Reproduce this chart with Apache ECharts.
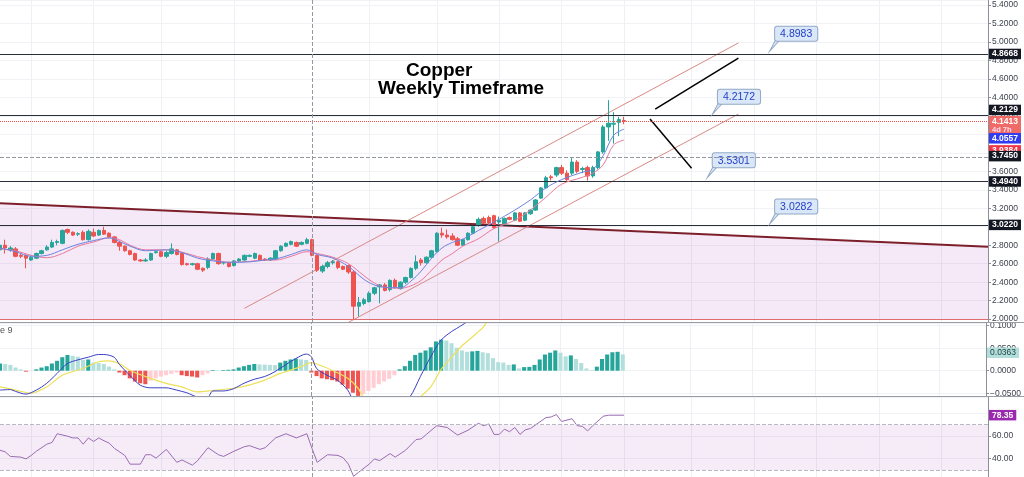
<!DOCTYPE html>
<html><head><meta charset="utf-8">
<script src="https://cdn.jsdelivr.net/npm/echarts@6/dist/echarts.min.js"></script>
<style>html,body{margin:0;padding:0;background:#fff}#c{width:1024px;height:477px}</style>
</head><body><div id="c"></div>
<script>
// ---------------- DATA ----------------
const weekCount = 191; // visible weekly slots incl. empty right margin
const weeks = Array.from({length: weekCount}, (_, i) => 'W' + (i + 1));

// weekly candles [open, close, low, high]
const candles = [
[2.75,2.80,2.74,2.82],[2.80,2.77,2.71,2.86],[2.75,2.77,2.73,2.79],[2.76,2.68,2.67,2.78],[2.69,2.68,2.66,2.71],
[2.69,2.66,2.55,2.70],[2.64,2.67,2.63,2.69],[2.66,2.71,2.65,2.72],[2.71,2.74,2.70,2.75],[2.75,2.78,2.74,2.80],
[2.78,2.83,2.77,2.86],[2.83,2.84,2.80,2.86],[2.82,2.96,2.81,2.97],[2.97,2.94,2.92,2.98],[2.94,2.91,2.90,2.95],
[2.92,2.925,2.90,2.94],[2.94,2.86,2.85,2.96],[2.86,2.95,2.85,2.97],[2.94,2.90,2.89,2.98],[2.91,2.96,2.90,2.97],
[2.96,2.92,2.91,3.00],[2.93,2.89,2.88,2.94],[2.89,2.83,2.82,2.90],[2.83,2.79,2.74,2.85],[2.79,2.74,2.73,2.80],
[2.74,2.70,2.69,2.75],[2.71,2.64,2.63,2.72],[2.64,2.63,2.62,2.65],[2.63,2.64,2.62,2.66],[2.64,2.71,2.63,2.72],
[2.72,2.73,2.71,2.74],[2.73,2.68,2.67,2.74],[2.68,2.72,2.66,2.74],[2.71,2.76,2.70,2.82],[2.75,2.70,2.69,2.76],
[2.71,2.59,2.58,2.72],[2.60,2.59,2.58,2.61],[2.59,2.60,2.58,2.61],[2.60,2.54,2.53,2.61],[2.55,2.53,2.51,2.56],
[2.56,2.65,2.54,2.67],[2.65,2.71,2.64,2.72],[2.71,2.60,2.59,2.72],[2.61,2.61,2.59,2.62],[2.61,2.57,2.56,2.62],
[2.58,2.63,2.57,2.64],[2.63,2.65,2.62,2.66],[2.64,2.69,2.63,2.70],[2.68,2.69,2.67,2.70],[2.66,2.71,2.65,2.72],
[2.69,2.64,2.63,2.70],[2.65,2.64,2.63,2.66],[2.64,2.66,2.63,2.67],[2.65,2.74,2.64,2.75],[2.74,2.79,2.73,2.80],
[2.79,2.82,2.78,2.83],[2.81,2.84,2.80,2.85],[2.83,2.79,2.78,2.84],[2.81,2.83,2.80,2.84],[2.82,2.86,2.81,2.88],
[2.86,2.69,2.68,2.87],[2.69,2.53,2.51,2.70],[2.52,2.57,2.50,2.59],[2.57,2.61,2.55,2.63],[2.61,2.62,2.59,2.64],
[2.62,2.56,2.54,2.63],[2.57,2.54,2.53,2.58],[2.58,2.51,2.49,2.59],[2.51,2.14,1.99,2.52],[2.14,2.18,2.03,2.24],
[2.17,2.21,2.15,2.23],[2.19,2.28,2.18,2.30],[2.28,2.34,2.26,2.35],[2.35,2.37,2.17,2.38],[2.37,2.31,2.30,2.39],
[2.32,2.42,2.30,2.43],[2.42,2.35,2.33,2.44],[2.33,2.40,2.32,2.41],[2.40,2.45,2.38,2.46],[2.45,2.55,2.44,2.56],
[2.55,2.62,2.53,2.69],[2.64,2.61,2.58,2.66],[2.61,2.67,2.60,2.68],[2.67,2.74,2.66,2.75],[2.73,2.93,2.72,2.94],
[2.93,2.91,2.88,2.99],[2.91,2.89,2.87,2.97],[2.90,2.86,2.85,2.93],[2.87,2.80,2.79,2.89],[2.80,2.86,2.79,2.87],
[2.86,2.93,2.85,2.94],[2.93,3.00,2.92,3.02],[3.02,3.08,3.00,3.10],[3.09,3.04,3.03,3.11],[3.10,3.04,3.02,3.12],
[3.12,2.99,2.98,3.13],[3.05,3.07,2.84,3.11],[3.03,3.09,3.02,3.10],[3.10,3.08,3.07,3.11],[3.07,3.15,3.06,3.16],
[3.15,3.06,3.05,3.16],[3.07,3.15,3.06,3.16],[3.14,3.18,3.13,3.19],[3.18,3.29,3.17,3.30],[3.31,3.42,3.30,3.43],
[3.42,3.53,3.41,3.55],[3.54,3.53,3.50,3.56],[3.56,3.64,3.54,3.65],[3.64,3.58,3.56,3.67],[3.58,3.51,3.49,3.61],
[3.58,3.70,3.56,3.75],[3.70,3.60,3.58,3.72],[3.62,3.63,3.58,3.65],[3.64,3.55,3.50,3.66],[3.55,3.64,3.53,3.66],
[3.64,3.81,3.62,3.82],[3.81,4.08,3.79,4.10],[4.08,4.12,3.93,4.37],[4.11,4.12,3.90,4.24],[4.13,4.16,3.98,4.19],
[4.15,4.1413,4.11,4.19]
];

// moving averages [week index, price]
const maFast = [[0,2.77],[3,2.73],[6,2.68],[9,2.69],[12,2.75],[15,2.81],[18,2.85],[21,2.88],[23,2.84],[25,2.79],
[28,2.74],[32,2.75],[35,2.72],[38,2.66],[41,2.63],[44,2.615],[48,2.62],[51,2.64],[53,2.65],[56,2.70],[59,2.75],
[61,2.70],[64,2.66],[67,2.57],[70,2.43],[72,2.37],[74,2.345],[77,2.34],[79,2.41],[81,2.52],[83,2.66],[85,2.77],
[87,2.83],[89,2.865],[92,2.96],[95,3.05],[99,3.18],[102,3.29],[105,3.42],[108,3.51],[112,3.59],[114,3.62],
[116,3.77],[118,3.99],[120,4.0557]];
const maSlow = [[0,2.76],[3,2.74],[6,2.69],[9,2.665],[12,2.71],[15,2.79],[18,2.835],[21,2.88],[23,2.86],[25,2.80],
[28,2.75],[32,2.75],[35,2.725],[38,2.676],[41,2.64],[44,2.615],[48,2.625],[51,2.64],[53,2.64],[56,2.68],[59,2.73],
[61,2.71],[64,2.67],[67,2.60],[70,2.47],[72,2.39],[74,2.345],[77,2.335],[79,2.36],[81,2.42],[83,2.53],[85,2.64],
[87,2.71],[89,2.79],[92,2.87],[95,2.98],[99,3.07],[102,3.18],[105,3.32],[108,3.46],[112,3.535],[114,3.58],
[116,3.67],[118,3.885],[120,3.9384]];

// MACD panel
const macdHist = [0.016,0.015,0.013,0.007,0.003,-0.002,-0.001,0.003,0.007,0.010,
0.016,0.022,0.030,0.035,0.033,0.031,0.024,0.025,0.018,0.017,
0.015,0.009,0.003,-0.004,-0.010,-0.017,-0.024,-0.028,-0.030,-0.022,
-0.017,-0.013,-0.010,-0.007,-0.004,-0.010,-0.012,-0.013,-0.015,-0.010,
-0.006,0.0015,0.001,0.0015,0.002,0.003,0.007,0.010,0.013,0.015,
0.014,0.0135,0.013,0.0125,0.018,0.022,0.025,0.027,0.025,0.024,
-0.004,-0.012,-0.017,-0.019,-0.021,-0.024,-0.031,-0.040,-0.049,-0.056,
-0.052,-0.045,-0.038,-0.030,-0.024,-0.018,-0.010,0.003,0.010,0.022,
0.035,0.040,0.045,0.052,0.065,0.069,0.067,0.061,0.051,0.045,
0.042,0.043,0.044,0.041,0.039,0.028,0.019,0.018,0.013,0.014,
0.005,0.008,0.0085,0.013,0.025,0.036,0.040,0.045,0.040,0.032,
0.034,0.026,0.017,0.005,0.0015,0.009,0.026,0.036,0.041,0.042,0.0363];
const macdLine = [[0,-0.043],[2,-0.042],[3,-0.046],[5,-0.052],[7,-0.043],[9,-0.028],[11,-0.006],[13,0.016],[15,0.024],
[17,0.030],[19,0.036],[20,0.036],[22,0.030],[23,0.014],[25,-0.010],[27,-0.032],[29,-0.038],[32,-0.038],[34,-0.043],
[36,-0.049],[38,-0.058],[40,-0.059],[41,-0.045],[43,-0.045],[45,-0.040],[47,-0.028],[49,-0.019],[51,-0.013],
[53,-0.002],[55,0.013],[57,0.027],[59,0.037],[60,0.031],[61,0.005],[63,-0.010],[65,-0.021],[67,-0.043],[68,-0.065],
[70,-0.095],[72,-0.11],[74,-0.11],[76,-0.09],[79,-0.058],[81,-0.013],[83,0.031],[85,0.068],[87,0.087],[88,0.094],
[90,0.109],[93,0.14],[97,0.17],[101,0.18],[105,0.20],[109,0.23],[113,0.24],[117,0.27],[120,0.30]];
const signalLine = [[0,-0.036],[3,-0.043],[6,-0.050],[9,-0.036],[12,-0.010],[16,0.005],[19,0.020],[21,0.022],
[23,0.016],[25,0.001],[29,-0.017],[32,-0.028],[35,-0.036],[38,-0.047],[41,-0.044],[45,-0.039],[48,-0.032],
[51,-0.021],[54,-0.006],[58,0.009],[60,0.018],[61,0.015],[64,0.001],[67,-0.017],[69,-0.039],[70,-0.058],
[72,-0.075],[74,-0.088],[76,-0.092],[78,-0.085],[80,-0.07],[81,-0.058],[83,-0.036],[85,0.003],[87,0.030],
[89,0.055],[91,0.075],[93,0.095],[94,0.11],[98,0.14],[102,0.16],[106,0.18],[110,0.20],[114,0.22],[118,0.24],[120,0.26]];

// RSI panel
const rsiLine = [[0,47.5],[1,46],[2,42],[4,41.4],[5,39.8],[6,42.9],[7,46.6],[9,52.8],[10,54.3],[11,62],[13,59.8],
[14,58.3],[15,58.3],[16,52.8],[17,58.3],[18,55.2],[19,58.3],[20,55.8],[21,53.7],[22,49.1],[24,42.9],[25,35.2],
[27,35.2],[28,43.5],[29,43.5],[30,40.5],[32,48.2],[34,36.8],[35,38.9],[37,34.3],[38,38.3],[40,49.7],[42,43.5],
[43,42],[45,46.6],[47,50.6],[48,51.5],[50,48.2],[51,49.7],[53,58.3],[55,62],[57,58.3],[59,62],[60,49.1],[61,36.8],
[63,43.5],[65,42.9],[66,40.8],[67,35.2],[68,24.5],[69,28.2],[71,35.2],[72,39.8],[73,38.3],[75,44.5],[76,41.4],
[78,47.5],[80,56.8],[81,57.5],[82,61.4],[84,69.1],[86,67.5],[88,60.8],[90,65.1],[92,71.2],[93,69.1],[94,70.6],
[95,61.4],[96,61.4],[97,66],[98,63.8],[99,67.5],[100,61.4],[101,65.4],[102,66.6],[105,76.2],[106,76.8],[107,78.9],
[108,72.8],[110,75.2],[111,69.1],[112,68.5],[113,64.5],[114,69.1],[116,77.4],[117,78.3],[120,78.35]];
const rsiBand = [30, 70];
const rsiLast = 78.35;
const macdLast = 0.0363;

// drawings / levels
const levelLines = [4.8668, 4.2129, 3.4940, 3.0220];
const floorPrice = 2.0;
const lastPrice = 4.1413;
const crossPrice = 3.7450;
const crossWeek = 60;
const resistanceLine = [[0, 3.254], [190, 2.783]];
const channelUpper = [[47, 2.117], [142, 4.989]];
const channelLower = [[67, 1.965], [142, 4.220]];
const arrowUp = [[126, 4.273], [142, 4.826]];
const arrowDown = [[125, 4.166], [133, 3.633]];
const callouts = [[148, 4.8983], [137, 4.2172], [136, 3.5301], [148, 3.0282]];
const gridWeeks = [6, 18, 31, 45, 71, 84, 96, 108, 120, 133, 145, 157, 169, 181];

// ---------------- CHART ----------------
const FONT = '"Liberation Sans", Arial, sans-serif';
const toXY = arr => arr.map(p => [weeks[p[0]], p[1]]);
const chart = echarts.init(document.getElementById('c'));

function xAx(gi) {
  return {type: 'category', gridIndex: gi, data: weeks, boundaryGap: false,
    axisLine: {show: false}, axisTick: {show: false}, axisLabel: {show: false},
    splitLine: {show: true, interval: idx => gridWeeks.includes(idx), lineStyle: {color: '#eef0f5', width: 1}}};
}
function yAx(gi, min, max, step, fmt) {
  return {type: 'value', gridIndex: gi, position: 'right', min: min, max: max, minInterval: step, maxInterval: step,
    axisLine: {show: true, lineStyle: {color: '#8c8f99'}},
    axisTick: {show: true, length: 3, lineStyle: {color: '#8c8f99'}},
    axisLabel: {fontSize: 8.5, color: '#3e424d', margin: 4, fontFamily: FONT, formatter: fmt, showMinLabel: false, showMaxLabel: false},
    splitLine: {show: true, lineStyle: {color: '#f0f2f6'}}};
}
function tag(bg, fg, dy, text) {
  return {show: true, position: 'end', distance: 1, offset: [0, dy || 0],
    formatter: () => text,
    backgroundColor: bg, color: fg, fontSize: 8.5, fontWeight: 'bold', fontFamily: FONT,
    padding: [1, 3, 0, 3], lineHeight: 9.5};
}
const hidden = {color: 'rgba(0,0,0,0)', width: 1};
const lvl = {color: '#2a2e39', width: 1, type: 'solid'};
const f4 = v => v.toFixed(4);

const calloutShape = 'path://M0,12 L7,0 L12,0 Z';
const calloutData = callouts.map(c => ({
  coord: [weeks[c[0]], c[1]], value: c[1],
  symbol: calloutShape, symbolSize: [10, 11], symbolOffset: [5, -5.5],
  itemStyle: {color: '#d9e7f8', borderColor: '#93a9c6', borderWidth: 1},
  label: {show: true, position: [6, -13], align: 'left', verticalAlign: 'top',
    formatter: () => f4(c[1]), color: '#2340c8', fontSize: 10.5, fontFamily: FONT,
    backgroundColor: '#d9e7f8', borderColor: '#93a9c6', borderWidth: 1, borderRadius: 2, padding: [2, 5, 1, 5]}
}));

const option = {
  animation: false,
  backgroundColor: '#ffffff',
  grid: [
    {left: 0, right: 36, top: 0, height: 322},
    {left: 0, right: 36, top: 323, height: 73},
    {left: 0, right: 36, top: 397, height: 80}
  ],
  xAxis: [xAx(0), xAx(1), xAx(2)],
  yAxis: [
    yAx(0, 1.969, 5.454, 0.2, v => v.toFixed(4)),
    yAx(1, -0.0562, 0.106, 0.05, v => (v < -1e-9 ? '\u2212' : '') + Math.abs(v).toFixed(4)),
    yAx(2, 23.88, 94.36, 20, v => v.toFixed(2))
  ],
  graphic: [
    {type: 'line', shape: {x1: 0, y1: 322.5, x2: 1024, y2: 322.5}, style: {stroke: '#9a9da6', lineWidth: 1}, z: 100},
    {type: 'line', shape: {x1: 0, y1: 396.5, x2: 1024, y2: 396.5}, style: {stroke: '#9a9da6', lineWidth: 1}, z: 100},
    {type: 'text', left: 406, top: 61, style: {text: 'Copper', font: 'bold 19px ' + FONT, fill: '#000'}, z: 100},
    {type: 'text', left: 378, top: 79, style: {text: 'Weekly Timeframe', font: 'bold 19px ' + FONT, fill: '#000'}, z: 100},
    {type: 'text', left: 0, top: 326, style: {text: 'e 9', font: '9px ' + FONT, fill: '#555'}, z: 100}
  ],
  series: [
    { // falling resistance with shaded zone below
      type: 'line', xAxisIndex: 0, yAxisIndex: 0, data: toXY(resistanceLine), symbol: 'none', clip: false, silent: true,
      lineStyle: {color: '#7d1f2a', width: 2}, areaStyle: {color: 'rgba(186,104,200,0.21)', origin: floorPrice}, z: 1,
      markLine: {silent: true, symbol: ['none', 'none'], z: 6,
        data: [
          {yAxis: floorPrice, lineStyle: {color: '#e06c6c', width: 1, type: 'solid'}, label: {show: false}},
          {yAxis: levelLines[0], lineStyle: lvl, label: tag('#131722', '#fff', 0, f4(levelLines[0]))},
          {yAxis: levelLines[1], lineStyle: lvl, label: tag('#131722', '#fff', -5, f4(levelLines[1]))},
          {yAxis: levelLines[2], lineStyle: lvl, label: tag('#131722', '#fff', 0, f4(levelLines[2]))},
          {yAxis: levelLines[3], lineStyle: lvl, label: tag('#131722', '#fff', 0, f4(levelLines[3]))},
          {yAxis: lastPrice, lineStyle: {color: '#ef5350', width: 1, type: 'dotted'},
            label: Object.assign(tag('#f06b67', '#fff', 3.5, ''), {formatter: () => '{a|' + f4(lastPrice) + '}\n{b|4d 7h}',
              rich: {a: {fontSize: 8.5, fontWeight: 'bold', color: '#fff', fontFamily: FONT, lineHeight: 9}, b: {fontSize: 7.5, color: '#fde', fontFamily: FONT, lineHeight: 8}}})},
          {xAxis: weeks[crossWeek], lineStyle: {color: '#9598a1', width: 1, type: 'dashed'}, label: {show: false}}
        ]},
      markPoint: {silent: true, data: calloutData, z: 7}
    },
    {type: 'line', data: toXY(channelUpper), symbol: 'none', silent: true, lineStyle: {color: '#d98a84', width: 1}, z: 3},
    {type: 'line', data: toXY(channelLower), symbol: 'none', silent: true, lineStyle: {color: '#d98a84', width: 1}, z: 3},
    {type: 'line', data: toXY(arrowUp), symbol: 'none', silent: true, lineStyle: {color: '#000', width: 1.5}, z: 3},
    {type: 'line', data: toXY(arrowDown), symbol: 'none', silent: true, lineStyle: {color: '#000', width: 1.5}, z: 3},
    {
      type: 'candlestick', xAxisIndex: 0, yAxisIndex: 0, data: candles, barWidth: '72%', z: 5,
      itemStyle: {color: '#26a69a', color0: '#ef5350', borderColor: '#26a69a', borderColor0: '#ef5350', borderWidth: 1}
    },
    {type: 'line', data: toXY(maSlow), symbol: 'none', smooth: 0.35, silent: true, clip: false, lineStyle: {color: '#e8799a', width: 1}, z: 6,
      markLine: {silent: true, symbol: ['none', 'none'], z: 8, data: [
        {yAxis: maSlow[maSlow.length - 1][1], lineStyle: hidden, label: tag('#f23645', '#fff', 10.5, f4(maSlow[maSlow.length - 1][1]))}]}},
    {type: 'line', data: toXY(maFast), symbol: 'none', smooth: 0.35, silent: true, clip: false, lineStyle: {color: '#6d84e0', width: 1}, z: 6,
      markLine: {silent: true, symbol: ['none', 'none'], z: 9, data: [
        {yAxis: maFast[maFast.length - 1][1], lineStyle: hidden, label: tag('#2f3cf0', '#fff', 9.5, f4(maFast[maFast.length - 1][1]))},
        {yAxis: crossPrice, lineStyle: {color: '#9598a1', width: 1, type: 'dashed'}, label: tag('#131722', '#fff', -1.3, f4(crossPrice))}
      ]}},
    // MACD
    {
      type: 'bar', xAxisIndex: 1, yAxisIndex: 1, data: macdHist, barWidth: '78%', clip: false, silent: true,
      itemStyle: {color: p => {
        const v = macdHist[p.dataIndex], prev = p.dataIndex > 0 ? macdHist[p.dataIndex - 1] : v;
        if (v >= 0) return v >= prev ? '#26a69a' : '#b2dfdb';
        return v <= prev ? '#ef5350' : '#ffcdd2';
      }},
      markLine: {silent: true, symbol: ['none', 'none'], z: 8, data: [
        {yAxis: macdLast, lineStyle: hidden, label: Object.assign(tag('#b2dfdb', '#1f3b38', 0, f4(macdLast)), {fontWeight: 'normal'})},
        {xAxis: weeks[crossWeek], lineStyle: {color: '#9598a1', width: 1, type: 'dashed'}, label: {show: false}}
      ]}
    },
    {type: 'line', xAxisIndex: 1, yAxisIndex: 1, data: toXY(macdLine), symbol: 'none', smooth: 0.3, silent: true, lineStyle: {color: '#3b3fc4', width: 1}, z: 4},
    {type: 'line', xAxisIndex: 1, yAxisIndex: 1, data: toXY(signalLine), symbol: 'none', smooth: 0.3, silent: true, lineStyle: {color: '#ede05a', width: 1.2}, z: 3},
    // RSI
    {
      type: 'line', xAxisIndex: 2, yAxisIndex: 2, data: toXY(rsiLine), symbol: 'none', silent: true, clip: false,
      lineStyle: {color: '#9a6bb2', width: 1}, z: 4,
      markArea: {silent: true, itemStyle: {color: 'rgba(156,39,176,0.09)'}, data: [[{yAxis: rsiBand[0]}, {yAxis: rsiBand[1]}]]},
      markLine: {silent: true, symbol: ['none', 'none'], z: 8, data: [
        {yAxis: rsiBand[1], lineStyle: {color: '#b8b8c0', width: 1, type: 'dashed'}, label: {show: false}},
        {yAxis: rsiBand[0], lineStyle: {color: '#b8b8c0', width: 1, type: 'dashed'}, label: {show: false}},
        {yAxis: rsiLast, lineStyle: hidden, label: tag('#9c27b0', '#fff', 0, rsiLast.toFixed(2))},
        {xAxis: weeks[crossWeek], lineStyle: {color: '#9598a1', width: 1, type: 'dashed'}, label: {show: false}}
      ]}
    }
  ]
};
chart.setOption(option);
</script>
</body></html>
